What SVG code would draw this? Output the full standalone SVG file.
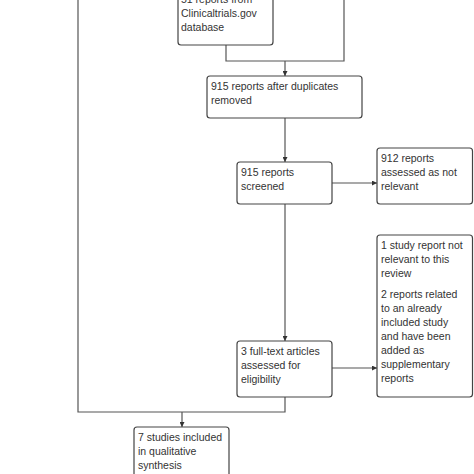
<svg xmlns="http://www.w3.org/2000/svg" width="474" height="474" viewBox="0 0 474 474">
<style>
.box{fill:#fff;stroke:#444;stroke-width:1.2}
.ln{fill:none;stroke:#555;stroke-width:1.2}
text{font-family:"Liberation Sans",Arial,sans-serif;font-size:10.5px;fill:#333}
</style>
<defs>
<marker id="ah" viewBox="0 0 8 8" refX="8" refY="4" markerWidth="5" markerHeight="5" orient="auto" markerUnits="userSpaceOnUse">
<path d="M0,0 L8,4 L0,8 z" fill="#333"/>
</marker>
</defs>
<rect width="474" height="474" fill="#fff"/>
<g id="connectors">
<path class="ln" d="M226,45 V61 H344 V-5"/>
<path class="ln" d="M285,61 V76" marker-end="url(#ah)"/>
<path class="ln" d="M285,118 V162" marker-end="url(#ah)"/>
<path class="ln" d="M332,183 H377" marker-end="url(#ah)"/>
<path class="ln" d="M285,204 V341" marker-end="url(#ah)"/>
<path class="ln" d="M332,368 H377" marker-end="url(#ah)"/>
<path class="ln" d="M285,397 V412 H78 V-5"/>
<path class="ln" d="M182,412 V427" marker-end="url(#ah)"/>
</g>
<g id="n1">
<rect class="box" x="178" y="-20" width="95" height="65" rx="3"/>
<text x="181" y="3">51 reports from</text>
<text x="181" y="17">Clinicaltrials.gov</text>
<text x="181" y="31">database</text>
</g>
<g id="n2">
<rect class="box" x="207" y="76" width="155" height="42" rx="3"/>
<text x="211" y="90">915 reports after duplicates</text>
<text x="211" y="104">removed</text>
</g>
<g id="n3">
<rect class="box" x="237" y="162" width="95" height="42" rx="3"/>
<text x="241" y="176">915 reports</text>
<text x="241" y="190">screened</text>
</g>
<g id="n4">
<rect class="box" x="377" y="148" width="95.5" height="56" rx="3"/>
<text x="381" y="162">912 reports</text>
<text x="381" y="176">assessed as not</text>
<text x="381" y="190">relevant</text>
</g>
<g id="n5">
<rect class="box" x="377" y="235" width="95.5" height="162" rx="3"/>
<text x="381" y="249">1 study report not</text>
<text x="381" y="263">relevant to this</text>
<text x="381" y="277">review</text>
<text x="381" y="298">2 reports related</text>
<text x="381" y="312">to an already</text>
<text x="381" y="326">included study</text>
<text x="381" y="340">and have been</text>
<text x="381" y="354">added as</text>
<text x="381" y="368">supplementary</text>
<text x="381" y="382">reports</text>
</g>
<g id="n6">
<rect class="box" x="237" y="341" width="95" height="56" rx="3"/>
<text x="241" y="355">3 full-text articles</text>
<text x="241" y="369">assessed for</text>
<text x="241" y="383">eligibility</text>
</g>
<g id="n7">
<rect class="box" x="134" y="427" width="95" height="60" rx="3"/>
<text x="138" y="441">7 studies included</text>
<text x="138" y="455">in qualitative</text>
<text x="138" y="469">synthesis</text>
</g>
</svg>
